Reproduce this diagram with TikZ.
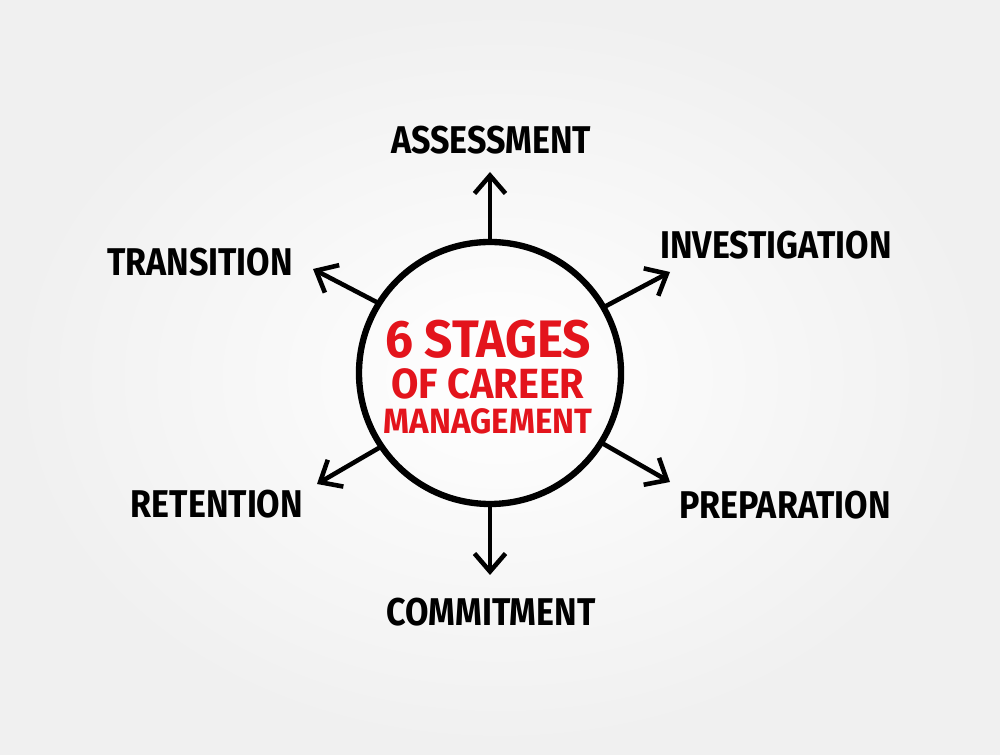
\documentclass[tikz,border=0pt]{standalone}
\usepackage{fontspec}
\setmainfont{Fira Sans}
\usetikzlibrary{arrows.meta}
\definecolor{markred}{HTML}{E3141C}
\begin{document}
\begin{tikzpicture}[>={Straight Barb[length=3.6mm,width=6.2mm]}, line join=round, line cap=round,
	stage/.style={font=\bfseries\fontsize{22}{22}\selectfont, xscale=0.88, transform shape},
	spoke/.style={->, line width=2.6pt}]
	\useasboundingbox (0,0) rectangle (20,15.1);
	\shade[inner color=white, outer color=black!6] (0,0) rectangle (20,15.1);
	% centre
	\node[draw, circle, line width=3.6pt, minimum size=5.24cm, inner sep=0pt] (hub) at (9.8,7.64) {};
	\node[align=center, text=markred, font=\bfseries, inner sep=0pt, xscale=0.94, transform shape] (title) at (9.76,7.56)
	{\fontsize{30}{30}\selectfont 6 STAGES\\[5pt]\fontsize{24}{24}\selectfont OF CAREER\\[4pt]\fontsize{20}{17}\selectfont MANAGEMENT};
	% arrow tips
	\coordinate (tipN) at (9.8,11.66);
	\coordinate (tipNE) at (13.4,9.66);
	\coordinate (tipSE) at (13.4,5.46);
	\coordinate (tipS) at (9.8,3.6);
	\coordinate (tipSW) at (6.34,5.42);
	\coordinate (tipNW) at (6.26,9.72);
	\draw[spoke] (hub.90)--(tipN);
	\draw[spoke] (hub.30)--(tipNE);
	\draw[spoke] (hub.-32)--(tipSE);
	\draw[spoke] (hub.-90)--(tipS);
	\draw[spoke] (hub.214)--(tipSW);
	\draw[spoke] (hub.148)--(tipNW);
	% stages
	\node[stage] (assess) at (9.82,12.3) {ASSESSMENT};
	\node[stage] (invest) at (15.52,10.2) {INVESTIGATION};
	\node[stage] (prep) at (15.7,5.0) {PREPARATION};
	\node[stage] (commit) at (9.82,2.86) {COMMITMENT};
	\node[stage] (retain) at (4.34,5.02) {RETENTION};
	\node[stage] (trans) at (4.0,9.86) {TRANSITION};
\end{tikzpicture}
\end{document}
